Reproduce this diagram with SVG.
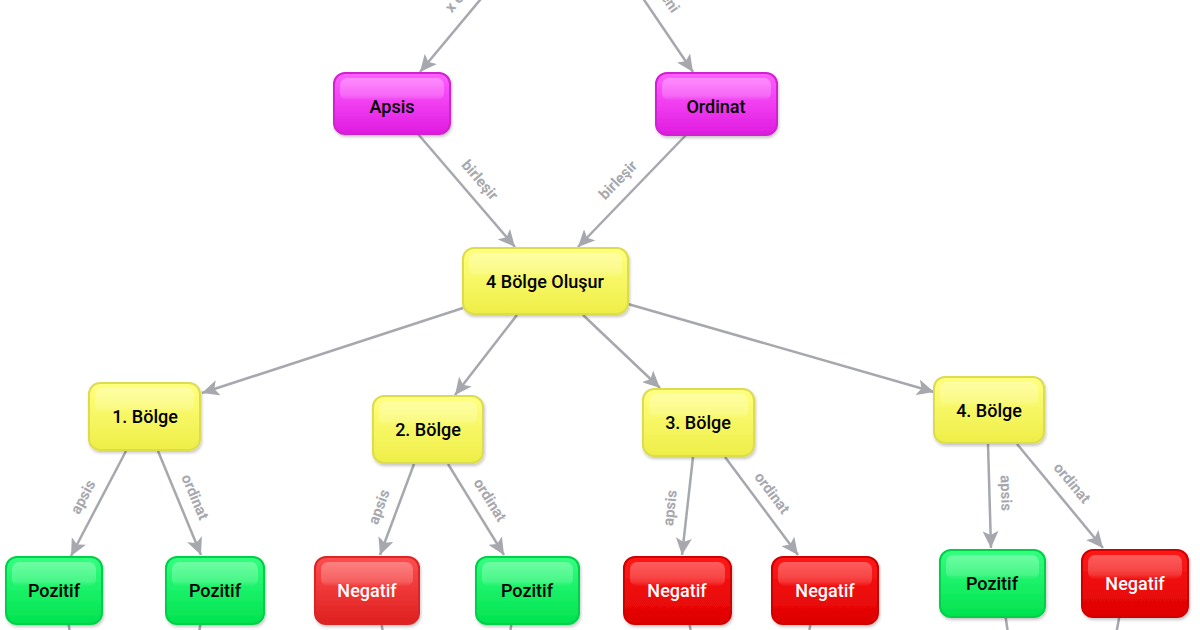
<svg xmlns="http://www.w3.org/2000/svg" width="1200" height="630" viewBox="0 0 1200 630">
<defs>
<style>
.n rect.b{stroke-width:2}
.t{font-family:Roboto,"Liberation Sans",sans-serif;font-size:18px;font-weight:500;text-anchor:middle}
.dk{fill:#000}
.wt{fill:#fff}
.e{stroke:#a6a8ae;stroke-width:2.5;fill:none;marker-end:url(#ah)}
.e2{stroke:#a6a8ae;stroke-width:2.5;fill:none}
.l{font-family:Roboto,"Liberation Sans",sans-serif;font-size:15px;font-weight:700;fill:#a6a8ae;text-anchor:middle;dominant-baseline:central}
.hl{fill:url(#gh)}
</style>
<linearGradient id="gm" x1="0" y1="0" x2="0" y2="1"><stop offset="0" stop-color="#ff60ff"/><stop offset="1" stop-color="#e01be0"/></linearGradient>
<linearGradient id="gy" x1="0" y1="0" x2="0" y2="1"><stop offset="0" stop-color="#ffff80"/><stop offset="1" stop-color="#eeee48"/></linearGradient>
<linearGradient id="gg" x1="0" y1="0" x2="0" y2="1"><stop offset="0" stop-color="#33ff80"/><stop offset="1" stop-color="#00e24e"/></linearGradient>
<linearGradient id="gr1" x1="0" y1="0" x2="0" y2="1"><stop offset="0" stop-color="#ff4d4d"/><stop offset="1" stop-color="#de2020"/></linearGradient>
<linearGradient id="gr2" x1="0" y1="0" x2="0" y2="1"><stop offset="0" stop-color="#ff1a1a"/><stop offset="1" stop-color="#de0000"/></linearGradient>
<linearGradient id="gh" x1="0" y1="0" x2="0" y2="1"><stop offset="0" stop-color="#fff" stop-opacity="0.3"/><stop offset="0.8" stop-color="#fff" stop-opacity="0.18"/><stop offset="1" stop-color="#fff" stop-opacity="0.02"/></linearGradient>
<filter id="sh" x="-10%" y="-10%" width="130%" height="140%"><feDropShadow dx="1" dy="2" stdDeviation="1.5" flood-color="#000" flood-opacity="0.22"/></filter>
<marker id="ah" markerUnits="userSpaceOnUse" markerWidth="18" markerHeight="16" refX="17" refY="8" orient="auto"><path d="M0,0 L17,8 L0,16 L4,8 z" fill="#a6a8ae"/></marker>
</defs>
<rect width="1200" height="630" fill="#fff"/>
<g id="connectors">
<line class="e" x1="490" y1="-12" x2="420" y2="72"/>
<line class="e" x1="636" y1="-12" x2="693" y2="72"/>
<line class="e" x1="418" y1="134" x2="515" y2="247"/>
<line class="e" x1="686" y1="135" x2="578" y2="247"/>
<line class="e" x1="463" y1="308" x2="202" y2="393"/>
<line class="e" x1="517" y1="315" x2="455" y2="395"/>
<line class="e" x1="583" y1="315" x2="660" y2="388"/>
<line class="e" x1="628" y1="304" x2="934" y2="392"/>
<line class="e" x1="126" y1="451" x2="71" y2="556"/>
<line class="e" x1="158" y1="451" x2="201" y2="555"/>
<line class="e" x1="414" y1="464" x2="380" y2="555"/>
<line class="e" x1="448" y1="464" x2="504" y2="555"/>
<line class="e" x1="693" y1="457" x2="682" y2="555"/>
<line class="e" x1="725" y1="457" x2="798" y2="555"/>
<line class="e" x1="988" y1="444" x2="991" y2="548"/>
<line class="e" x1="1017" y1="444" x2="1103" y2="548"/>
<line class="e2" x1="68" y1="620" x2="71" y2="640"/>
<line class="e2" x1="201" y1="620" x2="198" y2="640"/>
<line class="e2" x1="381" y1="620" x2="384" y2="640"/>
<line class="e2" x1="512" y1="620" x2="509" y2="640"/>
<line class="e2" x1="689" y1="620" x2="692" y2="640"/>
<line class="e2" x1="811" y1="620" x2="808" y2="640"/>
<line class="e2" x1="1005" y1="613" x2="1009" y2="640"/>
<line class="e2" x1="1120" y1="613" x2="1115" y2="640"/>
<text class="l" style="text-anchor:start" transform="translate(448,10) rotate(-50)">x ekseni</text>
<text class="l" style="text-anchor:end" transform="translate(676,11) rotate(55)">y ekseni</text>
<text class="l" transform="translate(480,180) rotate(49)">birleşir</text>
<text class="l" transform="translate(618,180) rotate(-46)">birleşir</text>
<text class="l" transform="translate(83,497) rotate(-62)">apsis</text>
<text class="l" transform="translate(195,497) rotate(67)">ordinat</text>
<text class="l" transform="translate(379,507) rotate(-70)">apsis</text>
<text class="l" transform="translate(490,500) rotate(58)">ordinat</text>
<text class="l" transform="translate(670,508) rotate(-84)">apsis</text>
<text class="l" transform="translate(772,493) rotate(53)">ordinat</text>
<text class="l" transform="translate(1006,493) rotate(88)">apsis</text>
<text class="l" transform="translate(1072,483) rotate(50)">ordinat</text>
</g>
<g id="apsis" class="n"><rect class="b" x="334" y="73" width="116" height="61" rx="11" fill="url(#gm)" stroke="#d020d0" filter="url(#sh)"/><rect class="hl" x="340" y="78" width="104" height="22" rx="7"/><text class="t dk" x="392" y="113">Apsis</text></g>
<g id="ordinat" class="n"><rect class="b" x="656" y="73" width="121" height="62" rx="11" fill="url(#gm)" stroke="#d020d0" filter="url(#sh)"/><rect class="hl" x="662" y="78" width="109" height="22" rx="7"/><text class="t dk" x="716" y="113">Ordinat</text></g>
<g id="bolge4olusur" class="n"><rect class="b" x="463" y="248" width="165" height="66" rx="11" fill="url(#gy)" stroke="#dcdc50" filter="url(#sh)"/><rect class="hl" x="469" y="253" width="153" height="24" rx="7"/><text class="t dk" x="545" y="288">4 Bölge Oluşur</text></g>
<g id="bolge1" class="n"><rect class="b" x="89" y="383" width="111" height="67" rx="11" fill="url(#gy)" stroke="#dcdc50" filter="url(#sh)"/><rect class="hl" x="95" y="388" width="99" height="24" rx="7"/><text class="t dk" x="145" y="423">1. Bölge</text></g>
<g id="bolge2" class="n"><rect class="b" x="373" y="396" width="110" height="67" rx="11" fill="url(#gy)" stroke="#dcdc50" filter="url(#sh)"/><rect class="hl" x="379" y="401" width="98" height="24" rx="7"/><text class="t dk" x="428" y="436">2. Bölge</text></g>
<g id="bolge3" class="n"><rect class="b" x="643" y="389" width="111" height="67" rx="11" fill="url(#gy)" stroke="#dcdc50" filter="url(#sh)"/><rect class="hl" x="649" y="394" width="99" height="24" rx="7"/><text class="t dk" x="698" y="429">3. Bölge</text></g>
<g id="bolge4" class="n"><rect class="b" x="934" y="377" width="110" height="66" rx="11" fill="url(#gy)" stroke="#dcdc50" filter="url(#sh)"/><rect class="hl" x="940" y="382" width="98" height="24" rx="7"/><text class="t dk" x="989" y="417">4. Bölge</text></g>
<g id="pozitif1a" class="n"><rect class="b" x="6" y="557" width="96" height="67" rx="11" fill="url(#gg)" stroke="#00d04a" filter="url(#sh)"/><rect class="hl" x="12" y="562" width="84" height="24" rx="7"/><text class="t dk" x="54" y="597">Pozitif</text></g>
<g id="pozitif1o" class="n"><rect class="b" x="166" y="557" width="98" height="67" rx="11" fill="url(#gg)" stroke="#00d04a" filter="url(#sh)"/><rect class="hl" x="172" y="562" width="86" height="24" rx="7"/><text class="t dk" x="215" y="597">Pozitif</text></g>
<g id="negatif2a" class="n"><rect class="b" x="315" y="557" width="104" height="67" rx="11" fill="url(#gr1)" stroke="#d82626" filter="url(#sh)"/><rect class="hl" x="321" y="562" width="92" height="24" rx="7"/><text class="t wt" x="367" y="597" font-weight="700">Negatif</text></g>
<g id="pozitif2o" class="n"><rect class="b" x="476" y="557" width="103" height="67" rx="11" fill="url(#gg)" stroke="#00d04a" filter="url(#sh)"/><rect class="hl" x="482" y="562" width="91" height="24" rx="7"/><text class="t dk" x="527" y="597">Pozitif</text></g>
<g id="negatif3a" class="n"><rect class="b" x="624" y="557" width="107" height="67" rx="11" fill="url(#gr2)" stroke="#d00000" filter="url(#sh)"/><rect class="hl" x="630" y="562" width="95" height="24" rx="7"/><text class="t wt" x="677" y="597" font-weight="700">Negatif</text></g>
<g id="negatif3o" class="n"><rect class="b" x="772" y="557" width="106" height="67" rx="11" fill="url(#gr2)" stroke="#d00000" filter="url(#sh)"/><rect class="hl" x="778" y="562" width="94" height="24" rx="7"/><text class="t wt" x="825" y="597" font-weight="700">Negatif</text></g>
<g id="pozitif4a" class="n"><rect class="b" x="940" y="550" width="105" height="67" rx="11" fill="url(#gg)" stroke="#00d04a" filter="url(#sh)"/><rect class="hl" x="946" y="555" width="93" height="24" rx="7"/><text class="t dk" x="992" y="590">Pozitif</text></g>
<g id="negatif4o" class="n"><rect class="b" x="1082" y="550" width="106" height="67" rx="11" fill="url(#gr2)" stroke="#d00000" filter="url(#sh)"/><rect class="hl" x="1088" y="555" width="94" height="24" rx="7"/><text class="t wt" x="1135" y="590" font-weight="700">Negatif</text></g>
</svg>
